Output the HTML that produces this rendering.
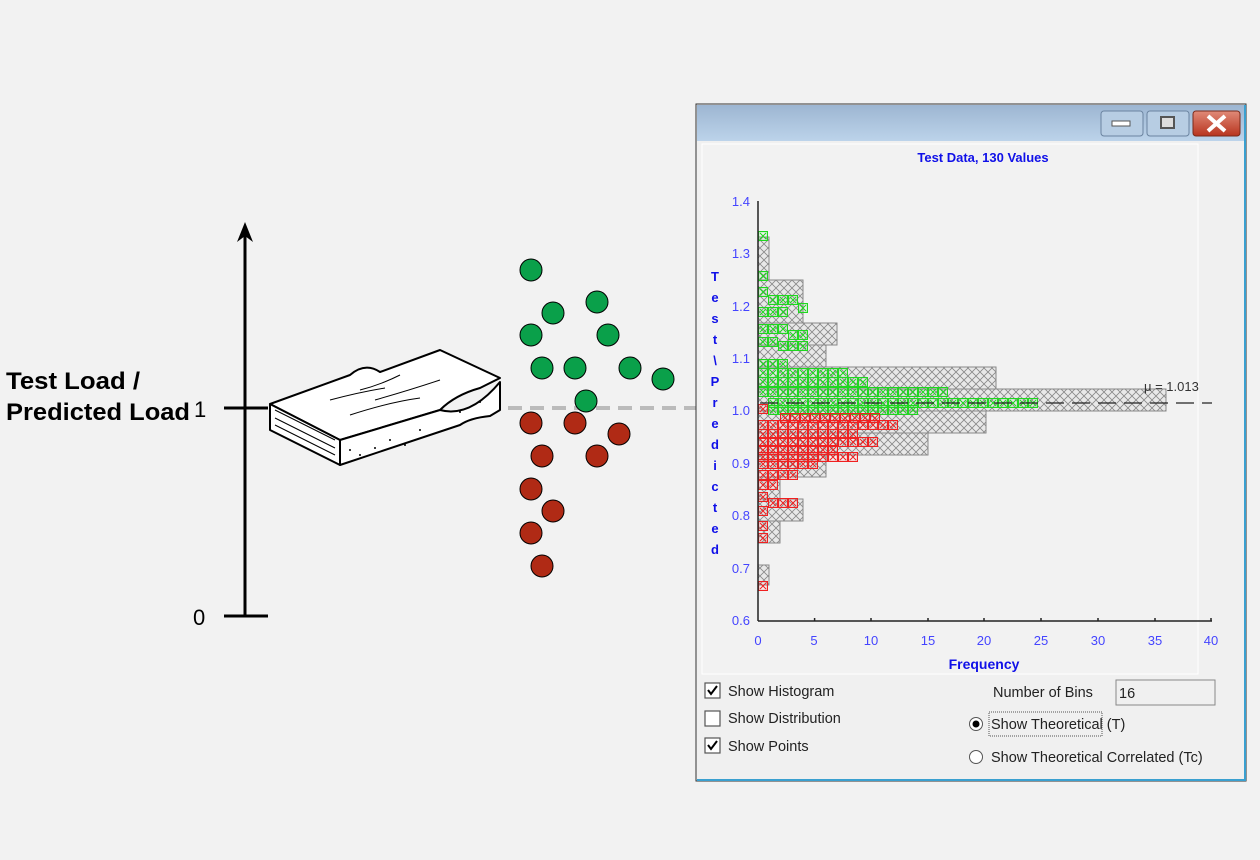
<!DOCTYPE html>
<html><head><meta charset="utf-8"><style>
html,body{margin:0;padding:0;background:#f2f2f2;}
body{width:1260px;height:860px;position:relative;overflow:hidden;font-family:"Liberation Sans",sans-serif;}
</style></head><body>
<svg width="1260" height="860" style="position:absolute;left:0;top:0" xmlns="http://www.w3.org/2000/svg">
<defs>
<pattern id="hatch" width="8" height="8" patternUnits="userSpaceOnUse">
<rect width="8" height="8" fill="#e8e8e8"/>
<path d="M0,0L8,8M8,0L0,8" stroke="#888" stroke-width="0.8"/>
</pattern>
<pattern id="gs" width="10" height="10" patternUnits="userSpaceOnUse">
<rect x="0.5" y="0.5" width="9" height="9" fill="none" stroke="#1ed81e" stroke-width="1.3"/>
<path d="M2,2L8,8M8,2L2,8" stroke="#1ed81e" stroke-width="1"/>
</pattern>
<pattern id="rs" width="10" height="10" patternUnits="userSpaceOnUse">
<rect x="0.5" y="0.5" width="9" height="9" fill="none" stroke="#f02020" stroke-width="1.3"/>
<path d="M2,2L8,8M8,2L2,8" stroke="#f02020" stroke-width="1"/>
</pattern>
<linearGradient id="tb" x1="0" y1="0" x2="0" y2="1"><stop offset="0" stop-color="#9db6d2"/><stop offset="1" stop-color="#bcd3ea"/></linearGradient>
<linearGradient id="cl" x1="0" y1="0" x2="0" y2="1"><stop offset="0" stop-color="#e08a78"/><stop offset="1" stop-color="#b8341e"/></linearGradient>
</defs>

<!-- left axis -->
<line x1="245" y1="232" x2="245" y2="616" stroke="#000" stroke-width="3"/>
<path d="M237,242 L245,222 L253,242 L245,236 Z" fill="#000"/>
<line x1="224" y1="408" x2="268" y2="408" stroke="#000" stroke-width="3"/>
<line x1="224" y1="616" x2="268" y2="616" stroke="#000" stroke-width="3"/>
<text x="6" y="389" font-family="Liberation Sans" font-weight="bold" font-size="24" textLength="134" lengthAdjust="spacingAndGlyphs">Test Load /</text>
<text x="6" y="420" font-family="Liberation Sans" font-weight="bold" font-size="24" textLength="184" lengthAdjust="spacingAndGlyphs">Predicted Load</text>
<text x="194" y="417" font-family="Liberation Sans" font-size="22">1</text>
<text x="193" y="625" font-family="Liberation Sans" font-size="22">0</text>

<!-- slab -->
<g fill="#fff" stroke="#000" stroke-width="2" stroke-linejoin="round">
<path d="M270,404 L350,375 Q365,362 380,372 L440,350 L500,378 L480,388 Q455,395 440,410 L340,440 Z"/>
<path d="M270,404 L340,440 L340,465 L270,430 Z"/>
<path d="M340,440 L440,410 Q470,418 500,382 L500,410 L490,416 Q470,418 460,425 L340,465 Z"/>
</g>
<g stroke="#000" stroke-width="1" fill="none">
<path d="M275,410 L335,440 M275,418 L335,448 M275,425 L335,455"/>
<path d="M360,390 Q380,385 400,375 M375,400 Q410,390 440,380 M350,415 Q390,402 420,398 M330,400 Q360,392 385,388"/>
</g>
<g fill="#000"><circle cx="350" cy="450" r="1"/><circle cx="360" cy="455" r="1"/><circle cx="390" cy="440" r="1"/><circle cx="420" cy="430" r="1"/><circle cx="460" cy="412" r="1"/><circle cx="480" cy="402" r="1"/><circle cx="405" cy="445" r="1"/><circle cx="375" cy="448" r="1"/></g>

<!-- dashed line -->
<line x1="508" y1="408" x2="700" y2="408" stroke="#bbb" stroke-width="4" stroke-dasharray="14,8"/>

<!-- circles -->
<g fill="#0aa04a" stroke="#000" stroke-width="1">
<circle cx="531" cy="270" r="11"/><circle cx="553" cy="313" r="11"/><circle cx="597" cy="302" r="11"/>
<circle cx="531" cy="335" r="11"/><circle cx="608" cy="335" r="11"/><circle cx="542" cy="368" r="11"/>
<circle cx="575" cy="368" r="11"/><circle cx="630" cy="368" r="11"/><circle cx="663" cy="379" r="11"/>
<circle cx="586" cy="401" r="11"/>
</g>
<g fill="#b02a15" stroke="#000" stroke-width="1">
<circle cx="531" cy="423" r="11"/><circle cx="575" cy="423" r="11"/><circle cx="619" cy="434" r="11"/>
<circle cx="542" cy="456" r="11"/><circle cx="597" cy="456" r="11"/><circle cx="531" cy="489" r="11"/>
<circle cx="553" cy="511" r="11"/><circle cx="531" cy="533" r="11"/><circle cx="542" cy="566" r="11"/>
</g>

<!-- window -->
<rect x="696" y="104" width="550" height="677" fill="#f0f0f0" stroke="#333" stroke-width="1"/>
<rect x="697" y="105" width="548" height="36" fill="url(#tb)"/>
<rect x="1101" y="111" width="42" height="25" rx="3" fill="#b7cde3" stroke="#6b84a0"/>
<rect x="1112" y="121" width="18" height="5" fill="#fff" stroke="#555"/>
<rect x="1147" y="111" width="42" height="25" rx="3" fill="#b7cde3" stroke="#6b84a0"/>
<rect x="1161" y="117" width="13" height="11" fill="#ddd" stroke="#555" stroke-width="2"/>
<rect x="1193" y="111" width="47" height="25" rx="3" fill="url(#cl)" stroke="#7a2a1a"/>
<path d="M1208,116 L1225,131 M1225,116 L1208,131" stroke="#fff" stroke-width="4"/>
<line x1="1245" y1="105" x2="1245" y2="781" stroke="#3aa0d0" stroke-width="2"/>
<line x1="697" y1="780" x2="1245" y2="780" stroke="#3aa0d0" stroke-width="2"/>
<rect x="702" y="144" width="496" height="530" fill="#f2f2f2" stroke="#fff"/>

<text x="983" y="162" text-anchor="middle" font-family="Liberation Sans" font-weight="bold" font-size="13" fill="#1010e8">Test Data, 130 Values</text>

<!-- histogram -->
<g fill="url(#hatch)" stroke="#888" stroke-width="1">
<rect x="758" y="237" width="11" height="43"/>
<rect x="758" y="280" width="45" height="43"/>
<rect x="758" y="323" width="79" height="22"/>
<rect x="758" y="345" width="68" height="22"/>
<rect x="758" y="367" width="238" height="22"/>
<rect x="758" y="389" width="408" height="22"/>
<rect x="758" y="411" width="228" height="22"/>
<rect x="758" y="433" width="170" height="22"/>
<rect x="758" y="455" width="68" height="22"/>
<rect x="758" y="477" width="22" height="22"/>
<rect x="758" y="499" width="45" height="22"/>
<rect x="758" y="521" width="22" height="22"/>
<rect x="758" y="565" width="11" height="20"/>
</g>
<!-- points -->
<g>
<g transform="translate(758,231)"><rect width="10" height="10" fill="url(#gs)"/></g>
<g transform="translate(758,271)"><rect width="10" height="10" fill="url(#gs)"/></g>
<g transform="translate(758,287)"><rect width="10" height="10" fill="url(#gs)"/></g>
<g transform="translate(768,295)"><rect width="30" height="10" fill="url(#gs)"/></g>
<g transform="translate(798,303)"><rect width="10" height="10" fill="url(#gs)"/></g>
<g transform="translate(758,307)"><rect width="30" height="10" fill="url(#gs)"/></g>
<g transform="translate(758,324)"><rect width="30" height="10" fill="url(#gs)"/></g>
<g transform="translate(788,330)"><rect width="20" height="10" fill="url(#gs)"/></g>
<g transform="translate(758,337)"><rect width="20" height="10" fill="url(#gs)"/></g>
<g transform="translate(778,341)"><rect width="30" height="10" fill="url(#gs)"/></g>
<g transform="translate(758,359)"><rect width="30" height="10" fill="url(#gs)"/></g>
<g transform="translate(758,368)"><rect width="90" height="10" fill="url(#gs)"/></g>
<g transform="translate(758,377)"><rect width="110" height="10" fill="url(#gs)"/></g>
<g transform="translate(758,387)"><rect width="190" height="10" fill="url(#gs)"/></g>
<g transform="translate(768,398)"><rect width="270" height="10" fill="url(#gs)"/></g>
<g transform="translate(768,405)"><rect width="150" height="10" fill="url(#gs)"/></g>
<g transform="translate(758,404)"><rect width="10" height="10" fill="url(#rs)"/></g>
<g transform="translate(780,413)"><rect width="100" height="10" fill="url(#rs)"/></g>
<g transform="translate(758,420)"><rect width="140" height="10" fill="url(#rs)"/></g>
<g transform="translate(758,429)"><rect width="100" height="10" fill="url(#rs)"/></g>
<g transform="translate(758,437)"><rect width="120" height="10" fill="url(#rs)"/></g>
<g transform="translate(758,445)"><rect width="80" height="10" fill="url(#rs)"/></g>
<g transform="translate(758,452)"><rect width="100" height="10" fill="url(#rs)"/></g>
<g transform="translate(758,459)"><rect width="60" height="10" fill="url(#rs)"/></g>
<g transform="translate(758,470)"><rect width="40" height="10" fill="url(#rs)"/></g>
<g transform="translate(758,480)"><rect width="20" height="10" fill="url(#rs)"/></g>
<g transform="translate(758,492)"><rect width="10" height="10" fill="url(#rs)"/></g>
<g transform="translate(768,498)"><rect width="30" height="10" fill="url(#rs)"/></g>
<g transform="translate(758,506)"><rect width="10" height="10" fill="url(#rs)"/></g>
<g transform="translate(758,521)"><rect width="10" height="10" fill="url(#rs)"/></g>
<g transform="translate(758,533)"><rect width="10" height="10" fill="url(#rs)"/></g>
<g transform="translate(758,581)"><rect width="10" height="10" fill="url(#rs)"/></g>
</g>
<!-- mean line -->
<line x1="760" y1="403" x2="1212" y2="403" stroke="#222" stroke-width="1.2" stroke-dasharray="18,8"/>
<text x="1144" y="391" font-family="Liberation Sans" font-size="13" fill="#333">μ = 1.013</text>

<!-- axes -->
<g stroke="#222" stroke-width="1.5">
<line x1="758" y1="201" x2="758" y2="621"/>
<line x1="758" y1="621" x2="1212" y2="621"/>
<line x1="814.6" y1="618" x2="814.6" y2="621"/><line x1="871" y1="618" x2="871" y2="621"/><line x1="928" y1="618" x2="928" y2="621"/><line x1="984" y1="618" x2="984" y2="621"/><line x1="1041" y1="618" x2="1041" y2="621"/><line x1="1098" y1="618" x2="1098" y2="621"/><line x1="1155" y1="618" x2="1155" y2="621"/><line x1="1211" y1="618" x2="1211" y2="621"/>
</g>
<g font-family="Liberation Sans" font-size="13" fill="#4444ff" text-anchor="end">
<text x="750" y="206">1.4</text><text x="750" y="258">1.3</text><text x="750" y="311">1.2</text><text x="750" y="363">1.1</text><text x="750" y="415">1.0</text><text x="750" y="468">0.9</text><text x="750" y="520">0.8</text><text x="750" y="573">0.7</text><text x="750" y="625">0.6</text>
</g>
<g font-family="Liberation Sans" font-size="13" fill="#4444ff" text-anchor="middle">
<text x="758" y="645">0</text><text x="814" y="645">5</text><text x="871" y="645">10</text><text x="928" y="645">15</text><text x="984" y="645">20</text><text x="1041" y="645">25</text><text x="1098" y="645">30</text><text x="1155" y="645">35</text><text x="1211" y="645">40</text>
</g>
<text x="984" y="669" text-anchor="middle" font-family="Liberation Sans" font-weight="bold" font-size="14" fill="#1010e8">Frequency</text>
<g font-family="Liberation Sans" font-weight="bold" font-size="13" fill="#1010e8" text-anchor="middle">
<text x="715" y="281">T</text><text x="715" y="302">e</text><text x="715" y="323">s</text><text x="715" y="344">t</text><text x="715" y="365">\</text><text x="715" y="386">P</text><text x="715" y="407">r</text><text x="715" y="428">e</text><text x="715" y="449">d</text><text x="715" y="470">i</text><text x="715" y="491">c</text><text x="715" y="512">t</text><text x="715" y="533">e</text><text x="715" y="554">d</text>
</g>

<!-- controls -->
<g fill="#fff" stroke="#555" stroke-width="1.2">
<rect x="705" y="683" width="15" height="15"/><rect x="705" y="711" width="15" height="15"/><rect x="705" y="738" width="15" height="15"/>
</g>
<path d="M708,690 L711,694 L717,686 M708,745 L711,749 L717,741" stroke="#000" stroke-width="2" fill="none"/>
<rect x="1116" y="680" width="99" height="25" fill="#f0f0f0" stroke="#888"/>
<g font-family="Liberation Sans" font-size="14.5" fill="#222">
<text x="728" y="696">Show Histogram</text>
<text x="728" y="723">Show Distribution</text>
<text x="728" y="751">Show Points</text>
<text x="993" y="697">Number of Bins</text>
<text x="991" y="729">Show Theoretical (T)</text>
<text x="991" y="762">Show Theoretical Correlated (Tc)</text>
<text x="1119" y="698">16</text>
</g>
<circle cx="976" cy="724" r="6.5" fill="#fff" stroke="#555"/><circle cx="976" cy="724" r="3.5" fill="#000"/>
<circle cx="976" cy="757" r="6.5" fill="#fff" stroke="#555"/>
<rect x="989" y="712" width="113" height="24" fill="none" stroke="#555" stroke-dasharray="1,1"/>
</svg>
</body></html>
